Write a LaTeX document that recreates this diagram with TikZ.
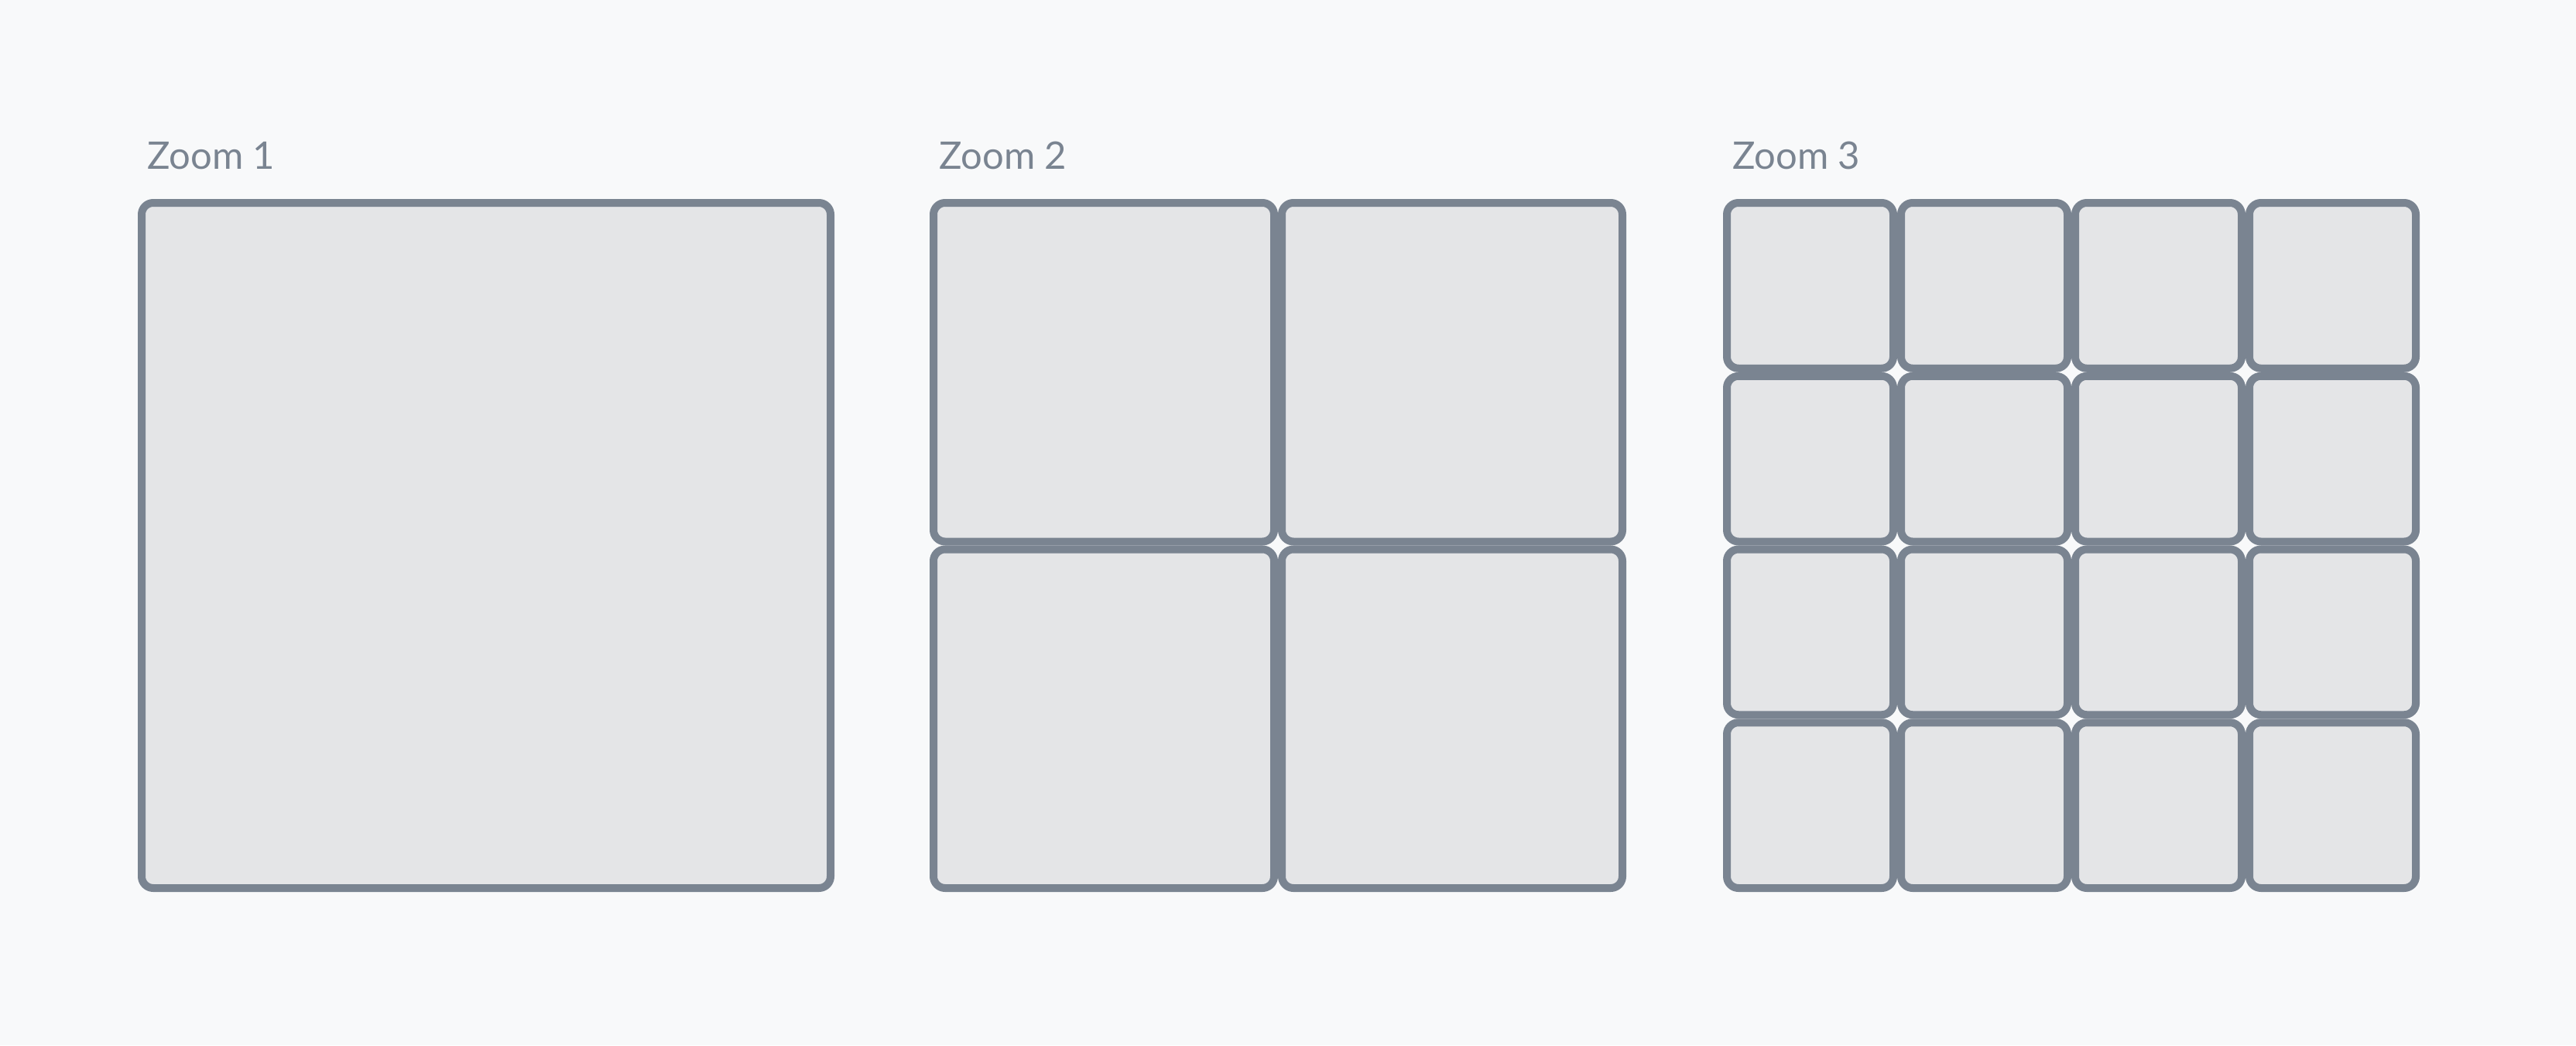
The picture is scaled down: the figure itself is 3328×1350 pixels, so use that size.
\documentclass[tikz,border=0pt]{standalone}
\usepackage{fontspec}
\setmainfont{Lato}
\definecolor{bg}{HTML}{F8F9FA}
\definecolor{edge}{HTML}{7A8491}
\definecolor{cellfill}{HTML}{E4E5E7}
\definecolor{labelc}{HTML}{7A8491}
\begin{document}
\begin{tikzpicture}[x=1pt,y=-1pt,
  cell/.style={draw=edge,fill=cellfill,line width=10pt,rounded corners=15pt,inner sep=0pt,outer sep=0pt},
  title/.style={anchor=base west,inner sep=0pt,text=labelc,font=\fontsize{49}{58}\selectfont}]
\fill[bg] (0,0) rectangle (3328,1350);
\useasboundingbox (0,0) rectangle (3328,1350);
% Zoom 1
\node[title] (t1) at (190,218) {Zoom 1};
\node[cell,minimum width=890pt,minimum height=885pt] (z1) at (628,704.5) {};
% Zoom 2
\node[title] (t2) at (1213,218) {Zoom 2};
\foreach \i in {0,1}{
  \foreach \j in {0,1}{
    \node[cell,minimum width=440pt,minimum height=437.5pt] (zb-\i-\j) at ({1206+220+\i*450},{262+218.75+\j*447.5}) {};
  }
}
% Zoom 3
\node[title] (t3) at (2238,218) {Zoom 3};
\foreach \i in {0,...,3}{
  \foreach \j in {0,...,3}{
    \node[cell,minimum width=215pt,minimum height=213.75pt] (zc-\i-\j) at ({2231+107.5+\i*225},{262+106.875+\j*223.75}) {};
  }
}
\end{tikzpicture}
\end{document}
